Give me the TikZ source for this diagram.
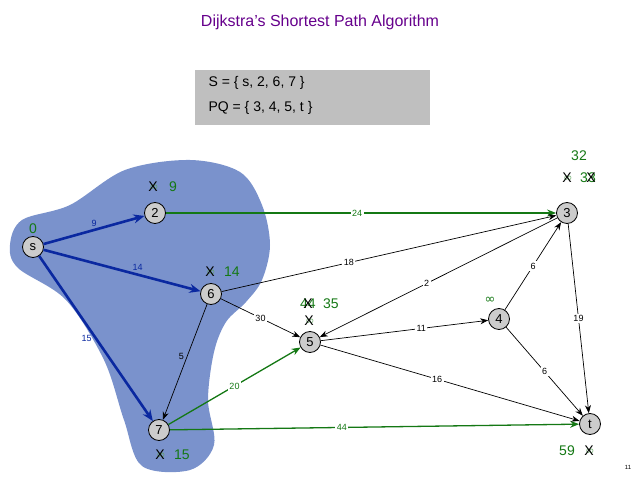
\documentclass[tikz,border=0pt]{standalone}
\usepackage{fontspec}
\setmainfont{Liberation Sans}
\newfontfamily\djfont{DejaVu Sans}
\usetikzlibrary{arrows.meta}
\definecolor{blob}{RGB}{122,146,204}
\definecolor{dgreen}{RGB}{20,120,20}
\definecolor{ttl}{RGB}{102,0,140}
\definecolor{blu}{RGB}{10,40,160}
\tikzset{
 vtx/.style={circle,draw,thick,fill=black!20,minimum size=21pt,inner sep=0pt,font=\fontsize{13}{13}\selectfont},
 e/.style={-{Stealth[length=8pt,width=6pt]},line width=0.7pt},
 eb/.style={-{Stealth[length=11pt,width=9pt]},blu,line width=2.6pt},
 eg/.style={-{Stealth[length=9pt,width=7pt]},dgreen,line width=1.3pt},
 wl/.style={fill=white,inner sep=1.5pt,font=\fontsize{9}{9}\selectfont},
 bl/.style={inner sep=1pt,font=\fontsize{9}{9}\selectfont},
 dl/.style={text=dgreen,font=\fontsize{14}{14}\selectfont,inner sep=0pt},
 xx/.style={font=\fontsize{14}{14}\selectfont,inner sep=0pt}
}
\newcommand{\xinf}[2]{\node[dl,text=dgreen!70,font=\djfont\fontsize{11}{11}\selectfont] at ($(#1)+(1,1)$) {∞};\node[xx] (#2) at (#1) {X};}
\usetikzlibrary{calc}
\begin{document}
\begin{tikzpicture}[x=1pt,y=-1pt]
\useasboundingbox (0,0) rectangle (638,478);
\node[text=ttl,font=\fontsize{16}{16}\selectfont] (title) at (320,22) {Dijkstra's Shortest Path Algorithm};
\fill[black!25] (195,70) rectangle (430,125);
\node[anchor=west,font=\fontsize{14}{14}\selectfont] (S) at (205,83) {S = \{ s, 2, 6, 7 \}};
\node[anchor=west,font=\fontsize{14}{14}\selectfont] (PQ) at (205,108) {PQ = \{ 3, 4, 5, t \}};
\fill[blob] plot[smooth cycle,tension=0.55] coordinates {(22,220) (70,205) (125,170) (190,160) (240,172) (262,205) (270,245) (262,280) (246,302) (226,322) (214,352) (208,400) (214,445) (190,470) (142,466) (124,420) (104,360) (66,300) (18,268) (10,245)};
\node[vtx] (s) at (33,247) {s};
\node[vtx] (n2) at (155,213) {2};
\node[vtx] (n3) at (567,213) {3};
\node[vtx] (n6) at (211,294) {6};
\node[vtx] (n5) at (310,342) {5};
\node[vtx] (n4) at (499,319) {4};
\node[vtx] (n7) at (159,430) {7};
\node[vtx] (t) at (590,424) {t};
\draw[eb] (s) -- node[bl,pos=0.55,above left] {9} (n2);
\draw[eb] (s) -- node[bl,pos=0.6,above=2pt] {14} (n6);
\draw[eb] (s) -- node[bl,pos=0.5,left=2pt] {15} (n7);
\draw[eg] (n2) -- node[wl,pos=0.49] {24} (n3);
\draw[e] (n6) -- node[wl,pos=0.38] {18} (n3);
\draw[e] (n6) -- node[wl,pos=0.5] {30} (n5);
\draw[e] (n6) -- node[bl,pos=0.45,left=2pt] {5} (n7);
\draw[eg] (n7) -- node[wl,pos=0.5] {20} (n5);
\draw[eg] (n7) -- node[wl,pos=0.42] {44} (t);
\draw[e] (n3) -- node[wl,pos=0.55] {2} (n5);
\draw[e] (n5) -- node[wl,pos=0.6] {11} (n4);
\draw[e] (n4) -- node[wl,pos=0.5] {6} (n3);
\draw[e] (n3) -- node[wl,pos=0.5] {19} (t);
\draw[e] (n4) -- node[wl,pos=0.5] {6} (t);
\draw[e] (n5) -- node[wl,pos=0.45] {16} (t);
\node[dl] (l0) at (33,229) {0};
\xinf{153,187}{x2}\node[dl] (l2) at (173,187) {9};
\xinf{210,272}{x6}\node[dl] (l6) at (232,272) {14};
\node[dl] (l44) at (308,304) {44};\node[xx] (x44) at (308,304) {X};\node[dl] (l35) at (331,304) {35};
\xinf{309,321}{x5}
\node[dl] (l32) at (579,156) {32};
\xinf{567,178}{x3}\node[dl] (l33) at (588,178) {33};\node[xx] (x33) at (591,178) {X};
\node[dl,font=\djfont\fontsize{13}{13}\selectfont] (l4) at (490,300) {∞};
\xinf{160,455}{x7}\node[dl] (l7) at (182,455) {15};
\node[dl] (l59) at (567,451) {59};\xinf{589,451}{xt}
\node[font=\fontsize{6}{6}\selectfont] (pg) at (628,467) {11};
\end{tikzpicture}
\end{document}
